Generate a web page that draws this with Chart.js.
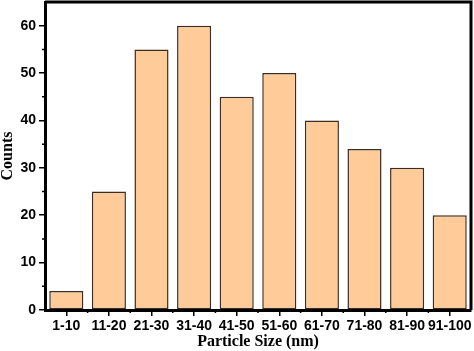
<!DOCTYPE html>
<html>
<head>
<meta charset="utf-8">
<script src="https://cdn.jsdelivr.net/npm/chart.js@4/dist/chart.umd.min.js"></script>
<style>
  body { margin: 0; background: #fff; }
  #wrap { width: 474px; height: 351px; }
</style>
</head>
<body>
<div id="wrap"><canvas id="chart"></canvas></div>
<script>
let sizeLabels = ['1-10', '11-20', '21-30', '31-40', '41-50', '51-60', '61-70', '71-80', '81-90', '91-100']
let counts = [4, 25, 55, 60, 45, 50, 40, 34, 30, 20]
let yTicks = [0, 10, 20, 30, 40, 50, 60]
let yMinorTicks = [5, 15, 25, 35, 45, 55]

// frame on top/right plus the minor ticks
const framePlugin = {
  id: 'frame',
  afterDraw(chart) {
    const ctx = chart.ctx
    const a = chart.chartArea
    const x = chart.scales.x
    const y = chart.scales.y
    ctx.save()
    ctx.strokeStyle = '#000'
    ctx.lineWidth = 3
    ctx.beginPath()
    ctx.moveTo(a.left, a.top)
    ctx.lineTo(a.right, a.top)
    ctx.lineTo(a.right, a.bottom)
    ctx.stroke()
    ctx.lineWidth = 1.5
    ctx.beginPath()
    yMinorTicks.forEach(v => {
      const py = y.getPixelForValue(v)
      ctx.moveTo(a.left - 3, py)
      ctx.lineTo(a.left, py)
    })
    for (let i = 0; i < sizeLabels.length - 1; i++) {
      const px = (x.getPixelForValue(i) + x.getPixelForValue(i + 1)) / 2
      ctx.moveTo(px, a.bottom)
      ctx.lineTo(px, a.bottom + 3)
    }
    ctx.stroke()
    ctx.restore()
  }
}

const ctx = document.getElementById('chart').getContext('2d')
const myChart = new Chart(ctx, {
  type: 'bar',
  data: {
    labels: sizeLabels,
    datasets: [{
      label: 'Counts',
      data: counts,
      backgroundColor: '#FFCB99',
      borderColor: '#3d2d20',
      borderWidth: 1.5,
      borderSkipped: false,
      categoryPercentage: 1,
      barPercentage: 0.8
    }]
  },
  options: {
    responsive: true,
    maintainAspectRatio: false,
    animation: false,
    layout: { padding: { top: 2, right: 3, left: 0, bottom: 0 } },
    plugins: { legend: { display: false }, tooltip: { enabled: false } },
    scales: {
      x: {
        grid: { display: true, drawOnChartArea: false, offset: false, tickLength: 6, color: '#000', lineWidth: 1.5 },
        border: { display: true, color: '#000', width: 3 },
        ticks: { color: '#000', padding: 2, maxRotation: 0, autoSkip: false, font: { family: 'Liberation Sans', weight: 'bold', size: 14 } },
        title: { display: true, text: 'Particle Size (nm)', color: '#000', padding: { top: 0, bottom: 1 }, font: { family: 'Liberation Serif', weight: 'bold', size: 16, lineHeight: 1 } },
        afterFit(scale) { scale.height = 41 }
      },
      y: {
        min: 0,
        max: 65,
        grid: { display: true, drawOnChartArea: false, tickLength: 6, color: '#000', lineWidth: 1.5 },
        border: { display: true, color: '#000', width: 3 },
        ticks: { color: '#000', padding: 3, font: { family: 'Liberation Sans', weight: 'bold', size: 14 } },
        afterBuildTicks(scale) { scale.ticks = yTicks.map(v => ({ value: v })) },
        title: { display: true, text: 'Counts', color: '#000', padding: 0, font: { family: 'Liberation Serif', weight: 'bold', size: 16, lineHeight: 1 } },
        afterFit(scale) {
          scale.width = 45
          scale.paddingTop = 0
          scale.paddingBottom = 0
        }
      }
    }
  },
  plugins: [framePlugin]
})
</script>
</body>
</html>
